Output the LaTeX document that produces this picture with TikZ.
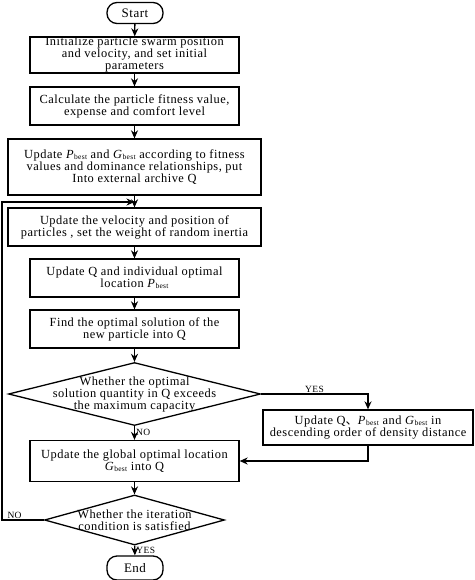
\documentclass[tikz,border=0pt]{standalone}
\usepackage{fontspec}
\setmainfont{Liberation Serif}[LetterSpace=4]
\newfontfamily\cjk{Noto Sans CJK SC}
\usetikzlibrary{shapes.geometric, arrows.meta}
\newcommand{\best}[1]{\textit{#1}\raisebox{-0.2ex}{\fontsize{7.5}{7.5}\selectfont best}}

\begin{document}
\begin{tikzpicture}
            [x=1pt, y=-1pt, ->, >={Stealth[length=8pt,width=7pt]}, line width=1.3pt,
             font=\fontsize{12.4}{12}\selectfont,
             terminal/.style={shape=rectangle, rounded corners=10pt, draw=black, minimum width=56pt, minimum height=21pt, inner sep=0pt, font=\fontsize{13}{13}\selectfont},
             process/.style={shape=rectangle, draw=black, align=center, inner sep=0pt},
             decision/.style={shape=diamond, draw=black, inner sep=0pt},
             answer/.style={font=\fontsize{9.5}{10}\selectfont, inner sep=1pt}]
            \useasboundingbox (0,0) rectangle (474,580);
            \node[terminal] (start) at (135, 13) {Start};
            \node[process, minimum width=209pt, minimum height=36pt] (init) at (134.5, 55) {Initialize particle swarm position\\and velocity, and set initial\\parameters};
            \node[process, minimum width=209pt, minimum height=38pt] (fitness) at (134.5, 106) {Calculate the particle fitness value,\\expense and comfort level};
            \node[process, minimum width=253pt, minimum height=56pt] (archive) at (134.5, 167) {Update \best{P} and \best{G} according to fitness\\values and dominance relationships, put\\Into external archive Q};
            \coordinate (join) at (134.5, 202);
            \node[process, minimum width=253pt, minimum height=38pt] (velocity) at (134.5, 227) {Update the velocity and position of\\particles , set the weight of random inertia};
            \node[process, minimum width=209pt, minimum height=38pt] (local) at (134.5, 278) {Update Q and individual optimal\\location \best{P}};
            \node[process, minimum width=209pt, minimum height=38pt] (newsol) at (134.5, 329) {Find the optimal solution of the\\new particle into Q};
            \node[decision, minimum width=252pt, minimum height=63pt] (capacity) at (134.5, 394) {};
            \node[align=center, inner sep=0pt] (capacitytext) at (134.5, 395) {Whether the optimal\\solution quantity in Q exceeds\\the maximum capacity};
            \node[process, minimum width=210pt, minimum height=35pt] (density) at (368, 427.5) {Update Q{\cjk 、}\best{P} and \best{G} in\\descending order of density distance};
            \node[process, minimum width=209pt, minimum height=41pt] (global) at (134.5, 461) {Update the global optimal location\\\best{G} into Q};
            \node[decision, minimum width=180pt, minimum height=50pt] (iteration) at (134.5, 520) {};
            \node[align=center, inner sep=0pt] (iterationtext) at (134.5, 520) {Whether the iteration\\condition is satisfied};
            \node[terminal, minimum height=24pt] (end) at (135, 568) {End};

            \path [->] (start) edge (init);
            \path [->] (init) edge (fitness);
            \path [->] (fitness) edge (archive);
            \path [->] (archive) edge (velocity);
            \path [->] (velocity) edge (local);
            \path [->] (local) edge (newsol);
            \path [->] (newsol) edge (capacity);
            \draw [->] (capacity.east) -- node[answer, above] {YES} (density.north |- capacity.east) -- (density.north);
            \path [->] (capacity) edge node[answer, right, pos=0.45] {NO} (global);
            \draw [->] (density.south) |- (global.east);
            \path [->] (global) edge (iteration);
            \path [->] (iteration) edge node[answer, right] {YES} (end);
            \draw [->] (iteration.west) -- node[answer, above, pos=0.7] {NO} (2, 520) -- (2, 202) -- (join);
        \end{tikzpicture}
\end{document}
